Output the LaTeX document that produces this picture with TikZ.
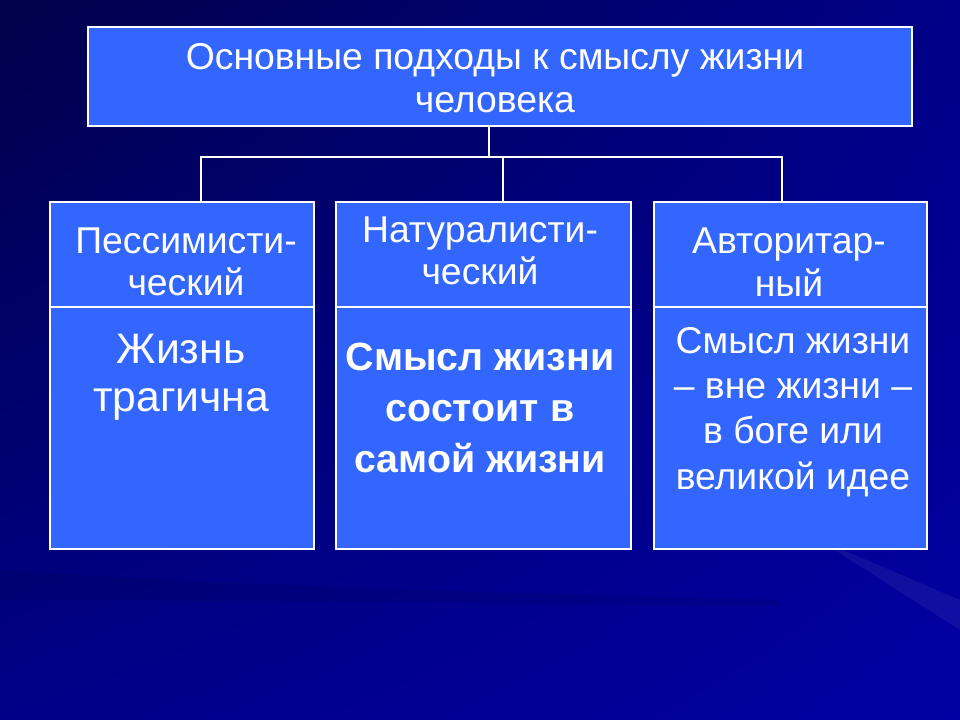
\documentclass[tikz,border=0pt]{standalone}
\usepackage{fontspec}
\setmainfont{Liberation Sans}
\usetikzlibrary{positioning,shadings}
\definecolor{slidedark}{HTML}{00004A}
\definecolor{slidemid}{HTML}{000088}
\definecolor{slidelight}{HTML}{0000A2}
\definecolor{boxfill}{HTML}{3366FF}

\begin{document}
\begin{tikzpicture}[x=0.75pt,y=-0.75pt,
    box/.style={draw=white,fill=boxfill,line width=0.9pt,inner sep=0pt,outer sep=0pt,anchor=north west},
    txt/.style={text=white,align=center,inner sep=0pt},
    link/.style={draw=white,line width=0.8pt}]
    % background
    \shade[upper left=slidedark,upper right=slidemid,lower left=slidemid,lower right=slidelight] (0,0) rectangle (960,720);
    \fill[white,opacity=0.06] (820,540) -- (960,600) -- (960,630) -- (850,560) -- cycle;
    \fill[black,opacity=0.08] (0,570) .. controls (300,590) and (600,595) .. (780,600) -- (780,606) .. controls (500,604) and (250,600) .. (0,600) -- cycle;
    \useasboundingbox (0,0) rectangle (960,720);

    % title
    \node[box,minimum width=618pt,minimum height=74.25pt] (top) at (88,27) {};
    \node[txt,font=\fontsize{28}{32}\selectfont] (toptext) at (495,78) {Основные подходы к смыслу жизни\\человека};

    % headers
    \node[box,minimum width=198pt,minimum height=78.75pt] (pesshead) at (50,202) {};
    \node[box,minimum width=221.25pt,minimum height=78.75pt] (nathead) at (336,202) {};
    \node[box,minimum width=204.75pt,minimum height=78.75pt] (authead) at (654,202) {};
    \node[txt,font=\fontsize{28}{32}\selectfont] (pesstitle) at (186,262) {Пессимисти-\\ческий};
    \node[txt,font=\fontsize{28}{32}\selectfont] (nattitle) at (480,251) {Натуралисти-\\ческий};
    \node[txt,font=\fontsize{28}{32}\selectfont] (auttitle) at (789,262) {Авторитар-\\ный};

    % bodies
    \node[box,minimum width=198pt,minimum height=181.5pt] (pessbody) at (50,307) {};
    \node[box,minimum width=221.25pt,minimum height=181.5pt] (natbody) at (336,307) {};
    \node[box,minimum width=204.75pt,minimum height=181.5pt] (autbody) at (654,307) {};
    \node[txt,font=\fontsize{32}{36}\selectfont] (pesstext) at (181,377) {Жизнь\\трагична};
    \node[txt,font=\fontsize{29.5}{38}\selectfont\bfseries] (nattext) at (480,408) {Смысл жизни\\состоит в\\самой жизни};
    \node[txt,font=\fontsize{28}{34}\selectfont] (auttext) at (793,412) {Смысл жизни\\– вне жизни –\\в боге или\\великой идее};

    % connectors
    \coordinate (fork) at (489,157);
    \coordinate (jl) at (201,157);
    \coordinate (jm) at (503,157);
    \coordinate (jr) at (782,157);
    \draw[link] (top.south -| fork) -- (fork);
    \draw[link] (jl |- pesshead.north) -- (jl) -- (jr) -- (jr |- authead.north);
    \draw[link] (jm) -- (jm |- nathead.north);
\end{tikzpicture}
\end{document}
